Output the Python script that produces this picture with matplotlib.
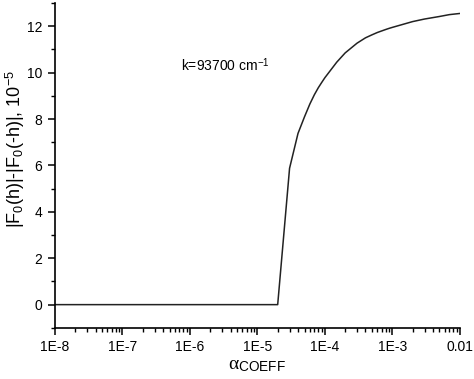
import numpy as np
import matplotlib
matplotlib.use('Agg')
import matplotlib.pyplot as plt
from matplotlib.ticker import LogLocator, MultipleLocator, FixedFormatter, FixedLocator

plt.rcParams['font.family'] = ['Liberation Sans', 'DejaVu Sans']
plt.rcParams['mathtext.fontset'] = 'custom'
plt.rcParams['mathtext.rm'] = 'Liberation Sans'
plt.rcParams['mathtext.it'] = 'Liberation Serif'
plt.rcParams['mathtext.bf'] = 'Liberation Sans:bold'

# values
alpha = [1e-8, 2e-5, 3e-5, 4e-5, 5e-5, 6e-5, 7e-5, 8e-5, 9e-5, 1e-4,
         1.5e-4, 2e-4, 3e-4, 4e-4, 5e-4, 6e-4, 7e-4, 8e-4, 9e-4, 1e-3,
         2e-3, 3e-3, 5e-3, 7e-3, 1e-2]
diff = [0, 0, 5.88, 7.38, 8.1, 8.65, 9.05, 9.35, 9.58, 9.78,
        10.45, 10.85, 11.27, 11.5, 11.63, 11.73, 11.8, 11.86, 11.91, 11.95,
        12.2, 12.31, 12.42, 12.5, 12.55]
xticks = [1e-8, 1e-7, 1e-6, 1e-5, 1e-4, 1e-3, 1e-2]
xticklabels = ['1E-8', '1E-7', '1E-6', '1E-5', '1E-4', '1E-3', '0.01']

fig = plt.figure(figsize=(4.74, 3.79), dpi=100)
ax = fig.add_axes([0.116, 0.135, 0.854, 0.857])
ax.plot(alpha, diff, color='#222222', lw=1.1)

ax.set_xscale('log')
ax.set_xlim(1e-8, 1e-2)
ax.set_ylim(-1, 13)
ax.xaxis.set_major_locator(FixedLocator(xticks))
ax.xaxis.set_major_formatter(FixedFormatter(xticklabels))
ax.xaxis.set_minor_locator(LogLocator(base=10, subs=np.arange(2, 10), numticks=20))
ax.yaxis.set_major_locator(MultipleLocator(2))
ax.yaxis.set_minor_locator(MultipleLocator(1))

for s in ['top', 'right']:
    ax.spines[s].set_visible(False)
for s in ['left', 'bottom']:
    ax.spines[s].set_linewidth(1.2)

ax.tick_params(which='major', direction='out', length=5, width=1.1, labelsize=10, pad=4)
ax.tick_params(which='minor', direction='out', length=3, width=1.0)
ax.xaxis.set_minor_formatter(plt.NullFormatter())

ax.set_ylabel('|F$_\\mathrm{0}$(h)|-|F$_\\mathrm{0}$(-h)|, 10$^{\\mathrm{-5}}$', fontsize=13)
ax.yaxis.set_label_coords(-0.068, 0.55)
ax.set_xlabel('$\\alpha_{\\mathrm{COEFF}}$', fontsize=14, labelpad=2)
ax.text(0.42, 0.81, 'k=93700 cm$^{\\mathrm{-1}}$', transform=ax.transAxes, fontsize=10, ha='center', va='center')

fig.savefig('out.png', dpi=100)
